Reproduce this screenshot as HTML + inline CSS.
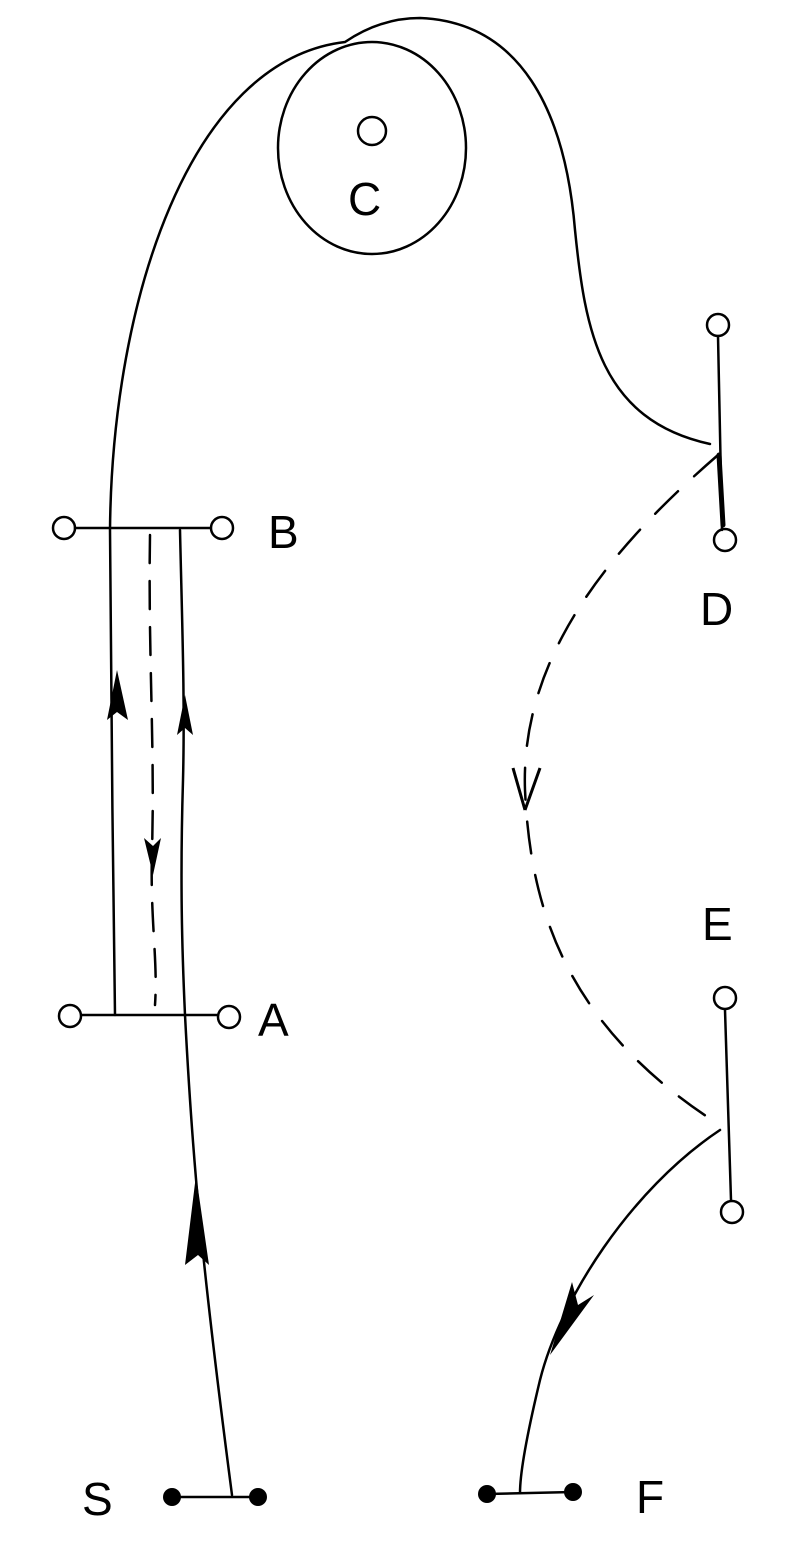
<!DOCTYPE html>
<html><head><style>
html,body{margin:0;padding:0;background:#fff;}
svg{display:block}
text{font-family:"Liberation Sans",sans-serif;font-size:46px;fill:#000}
</style></head><body>
<svg width="800" height="1550" viewBox="0 0 800 1550" xmlns="http://www.w3.org/2000/svg">
<g fill="none" stroke="#000" stroke-width="2.5" stroke-linecap="round">
<!-- C circle -->
<ellipse cx="372" cy="148" rx="94" ry="106"/>
<circle cx="372" cy="131" r="14"/>
<!-- big curve -->
<path d="M115 1015 C112 850 112 700 110 530 C112 300 190 60 345 42 C370 25 395 18 420 18 C520 22 565 110 575 230 C585 330 600 420 710 444"/>
<!-- right line between A and B -->
<path d="M180 530 C182 620 185 700 183 780 C180 880 182 950 185 1015"/>
<!-- dashed middle -->
<path d="M150 535 C148 650 155 750 152 850 C150 920 158 960 155 1005" stroke-dasharray="28 18"/>
<!-- B -->
<line x1="75" y1="528" x2="210" y2="528"/>
<circle cx="64" cy="528" r="11"/><circle cx="222" cy="528" r="11"/>
<!-- A -->
<line x1="82" y1="1015" x2="218" y2="1015"/>
<circle cx="70" cy="1016" r="11"/><circle cx="229" cy="1017" r="11"/>
<!-- S line -->
<path d="M185 1015 C192 1150 200 1250 232 1495"/>
<line x1="172" y1="1497" x2="258" y2="1497"/>
<!-- D -->
<path d="M718 336 L722 530"/>
<circle cx="718" cy="325" r="11"/><circle cx="725" cy="540" r="11"/>
<path d="M719 455 L723 525" stroke-width="5"/>
<!-- dashed arc D to E -->
<path d="M718 455 C620 540 520 650 525 790 C530 900 560 1020 712 1120" stroke-dasharray="32 22"/>
<!-- E -->
<path d="M725 1010 L731 1200"/>
<circle cx="725" cy="998" r="11"/><circle cx="732" cy="1212" r="11"/>
<!-- E to F curve -->
<path d="M720 1130 C630 1190 560 1300 540 1380 C528 1430 520 1470 520 1493"/>
<line x1="487" y1="1494" x2="573" y2="1492"/>
</g>
<g fill="#000">
<circle cx="172" cy="1497" r="9"/><circle cx="258" cy="1497" r="9"/>
<circle cx="487" cy="1494" r="9"/><circle cx="573" cy="1492" r="9"/>
<path d="M117 670 L107 720 L117 712 L128 720 Z"/>
<path d="M185 695 L177 735 L185 728 L193 735 Z"/>
<path d="M153 875 L144 838 L153 846 L161 838 Z"/>
<path d="M196 1175 L185 1265 L198 1255 L209 1265 Z"/>
<path d="M550 1355 L572 1282 L578 1305 L594 1295 Z"/>
</g>
<path d="M525 810 L513 768 M525 810 L540 768" stroke="#000" stroke-width="3" fill="none"/>
<text x="348" y="215">C</text>
<text x="268" y="548">B</text>
<text x="258" y="1036">A</text>
<text x="700" y="625">D</text>
<text x="702" y="940">E</text>
<text x="82" y="1515">S</text>
<text x="636" y="1513">F</text>
</svg>
</body></html>
